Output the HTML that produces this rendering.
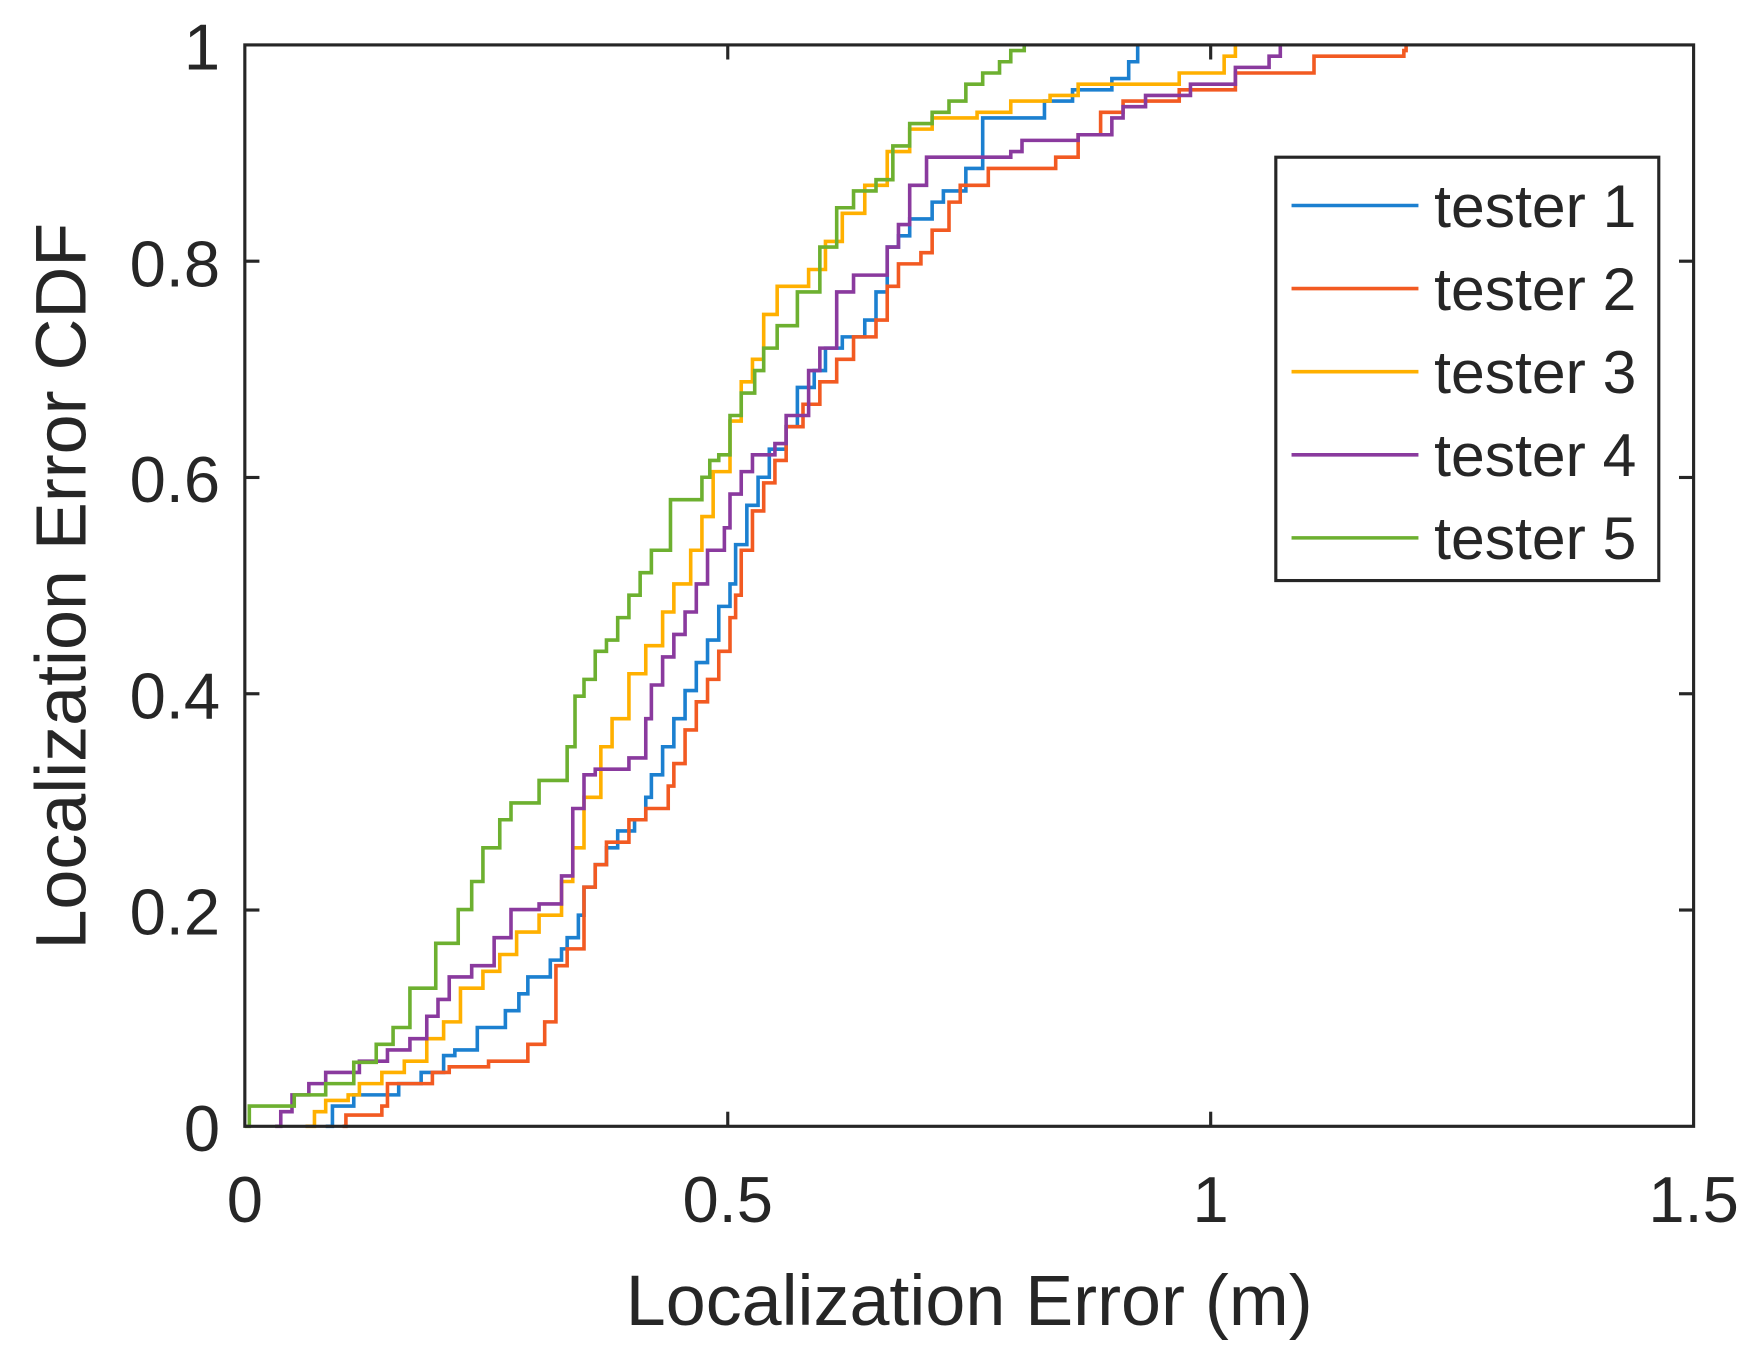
<!DOCTYPE html>
<html><head><meta charset="utf-8"><style>
html,body{margin:0;padding:0;background:#fff;}
svg{display:block;font-family:"Liberation Sans",Arial,sans-serif;}
</style></head><body>
<svg id="s" width="1752" height="1361" viewBox="0 0 1560 1212" preserveAspectRatio="none" xmlns="http://www.w3.org/2000/svg">
<rect x="0" y="0" width="1560" height="1212" fill="#fff"/>
<g id="curves" fill="none" stroke-width="3.2"></g>
<rect x="218" y="40" width="1290" height="963" fill="none" stroke="#262626" stroke-width="2.8"/>
<g stroke="#262626" stroke-width="2.8">
<line x1="648" y1="1003" x2="648" y2="990"/><line x1="1078" y1="1003" x2="1078" y2="990"/>
<line x1="648" y1="40" x2="648" y2="53"/><line x1="1078" y1="40" x2="1078" y2="53"/>
<line x1="218" y1="810.4" x2="231" y2="810.4"/><line x1="218" y1="617.8" x2="231" y2="617.8"/><line x1="218" y1="425.2" x2="231" y2="425.2"/><line x1="218" y1="232.6" x2="231" y2="232.6"/>
<line x1="1508" y1="810.4" x2="1495" y2="810.4"/><line x1="1508" y1="617.8" x2="1495" y2="617.8"/><line x1="1508" y1="425.2" x2="1495" y2="425.2"/><line x1="1508" y1="232.6" x2="1495" y2="232.6"/>
</g>
<g font-size="58" fill="#262626" text-anchor="end">
<text x="196" y="1025">0</text><text x="196" y="832">0.2</text><text x="196" y="640">0.4</text><text x="196" y="447">0.6</text><text x="196" y="255">0.8</text><text x="196" y="62">1</text>
</g>
<g font-size="58" fill="#262626" text-anchor="middle">
<text x="218" y="1088">0</text><text x="648" y="1088">0.5</text><text x="1078" y="1088">1</text><text x="1508" y="1088">1.5</text>
<text x="863" y="1180" font-size="64">Localization Error (m)</text>
<text transform="translate(76,522) rotate(-90)" font-size="64">Localization Error CDF</text>
</g>
<rect x="1136" y="140" width="341" height="377" fill="#fff" stroke="#262626" stroke-width="2.8"/>
<g stroke-width="3.2">
<line x1="1150" y1="183" x2="1263" y2="183" stroke="#1C80D0"/>
<line x1="1150" y1="257" x2="1263" y2="257" stroke="#F25A22"/>
<line x1="1150" y1="331" x2="1263" y2="331" stroke="#FFB000"/>
<line x1="1150" y1="405" x2="1263" y2="405" stroke="#8A3A9E"/>
<line x1="1150" y1="479" x2="1263" y2="479" stroke="#6DB030"/>
</g>
<g font-size="54" fill="#262626">
<text x="1277" y="202">tester 1</text><text x="1277" y="276">tester 2</text><text x="1277" y="350">tester 3</text><text x="1277" y="424">tester 4</text><text x="1277" y="498">tester 5</text>
</g>
</svg>
<script>
var data={
"#1C80D0":[290,[[296,985],[315,975],[355,965],[375,955],[395,940],[405,935],[425,915],[450,900],[462,885],[470,870],[490,855],[500,845],[505,835],[515,815],[520,790],[530,770],[540,755],[550,740],[565,730],[575,710],[580,690],[590,665],[600,640],[610,615],[620,590],[630,570],[640,540],[650,520],[655,485],[665,450],[675,425],[685,400],[700,380],[710,345],[725,330],[735,310],[750,300],[770,285],[780,260],[790,220],[800,210],[810,195],[830,180],[840,170],[860,150],[875,105],[930,90],[955,80],[990,70],[1005,55],[1013,40]]],
"#F25A22":[305,[[308,993],[340,985],[345,965],[385,955],[400,950],[435,945],[470,930],[485,910],[495,860],[505,845],[520,790],[530,770],[540,750],[560,730],[575,720],[595,700],[600,680],[610,650],[620,625],[630,605],[640,580],[650,550],[655,530],[660,490],[670,455],[680,430],[690,410],[700,380],[715,360],[730,340],[745,320],[760,300],[780,285],[790,255],[800,235],[820,225],[830,205],[845,180],[855,165],[880,150],[940,140],[960,120],[980,100],[1000,90],[1050,80],[1100,65],[1170,50],[1250,45],[1252,40]]],
"#FFB000":[272,[[280,990],[290,980],[310,975],[320,965],[340,955],[360,945],[380,925],[395,910],[410,880],[430,865],[445,850],[460,830],[480,815],[500,785],[510,755],[520,710],[535,665],[545,640],[560,600],[575,575],[590,545],[600,520],[615,490],[625,460],[635,420],[650,375],[660,340],[670,320],[680,280],[692,255],[720,240],[735,215],[750,190],[770,165],[790,135],[810,115],[830,105],[870,100],[900,90],[935,85],[960,75],[1050,65],[1090,50],[1100,40]]],
"#8A3A9E":[245,[[250,990],[260,975],[275,965],[290,955],[320,945],[345,935],[365,925],[380,905],[390,890],[400,870],[420,860],[440,835],[455,810],[480,805],[500,780],[510,720],[520,690],[530,685],[560,675],[575,640],[580,610],[590,585],[600,565],[610,545],[620,520],[630,490],[645,470],[650,440],[660,420],[670,405],[690,395],[700,370],[720,330],[730,310],[745,260],[760,245],[790,220],[800,200],[810,165],[825,140],[900,135],[910,125],[960,120],[990,105],[1000,95],[1020,85],[1060,75],[1100,60],[1130,50],[1140,40]]],
"#6DB030":[218,[[222,985],[262,975],[290,965],[315,946],[335,930],[350,915],[365,880],[388,840],[408,810],[420,785],[430,755],[445,730],[455,715],[480,695],[505,665],[512,620],[520,605],[530,580],[540,570],[550,550],[560,530],[570,510],[580,490],[597,445],[625,425],[632,410],[640,405],[650,370],[660,350],[672,330],[680,310],[692,290],[710,260],[730,220],[745,185],[760,170],[780,160],[795,130],[810,110],[830,100],[845,90],[860,75],[875,65],[890,55],[900,45],[912,40]]]
};
var g=document.getElementById('curves'),ns="http://www.w3.org/2000/svg";
for(var c in data){var x0=data[c][0],pts=data[c][1],d="M"+x0+" 1003";
for(var i=0;i<pts.length;i++){d+=" H"+pts[i][0]+" V"+pts[i][1];}
var p=document.createElementNS(ns,"path");p.setAttribute("d",d);p.setAttribute("stroke",c);g.appendChild(p);}
</script>
</body></html>
